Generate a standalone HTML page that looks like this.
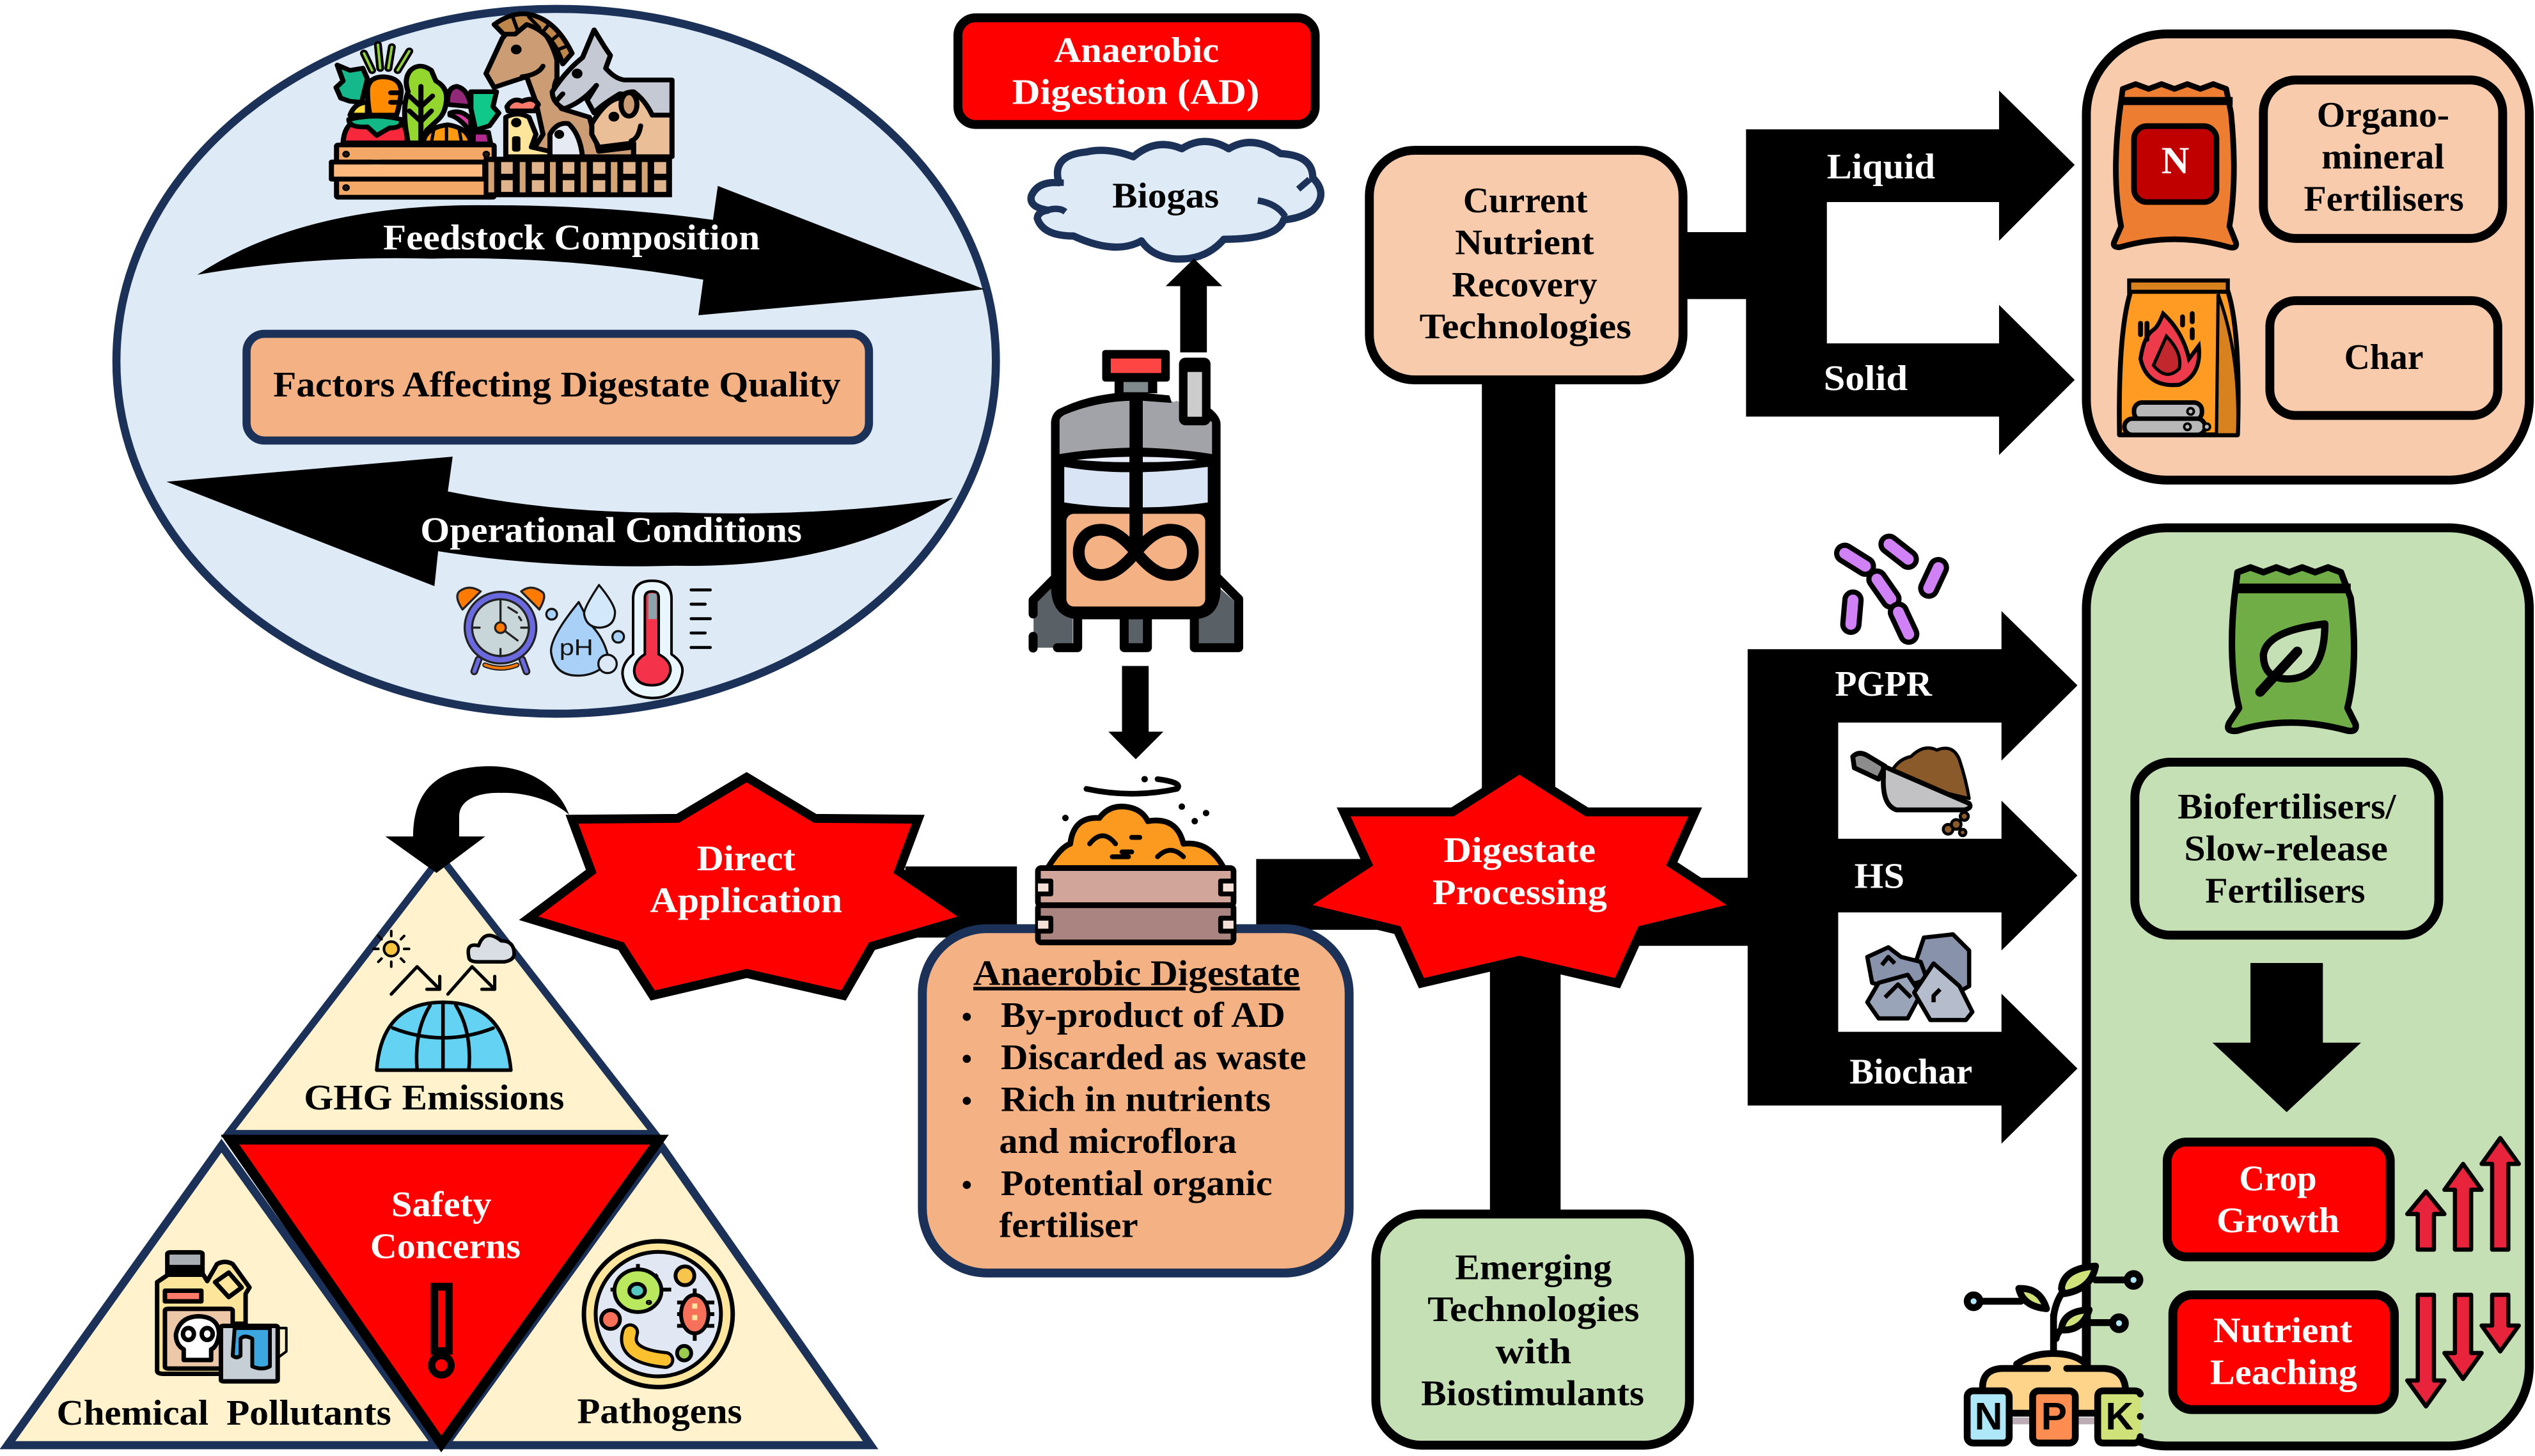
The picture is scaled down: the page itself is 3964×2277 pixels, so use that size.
<!DOCTYPE html>
<html><head><meta charset="utf-8"><title>Anaerobic digestate diagram</title>
<style>
html,body{margin:0;padding:0;background:#fff}
svg{display:block}
text{font-family:"Liberation Serif",serif;font-weight:bold;font-size:22px;fill:#000;transform:translateY(-0.7px)}
.w{fill:#fff}
.ns *{vector-effect:non-scaling-stroke}
</style></head><body>
<svg xmlns="http://www.w3.org/2000/svg" width="3964" height="2277" viewBox="0 0 1568 900.7">
<rect width="1568" height="901" fill="#fff"/>

<!-- factors ellipse -->
<ellipse cx="344" cy="223.5" rx="272" ry="218" fill="#deeaf6" stroke="#1b3158" stroke-width="5"/>
<path d="M122 170Q190 125 305 127Q375 127 441 136L444 115L609 179L432 195L435 173Q350 158 267 160Q190 158 122 170Z"/>
<path d="M103 298L280 282.5L277 304Q345 318 418 317Q510 320 589.5 308Q520 352 418 350Q340 352 271 341L268.7 362.6Z"/>
<rect x="152.5" y="206.5" width="385" height="66" rx="11" fill="#f4b183" stroke="#1b3158" stroke-width="5"/>
<text x="237" y="155" class="w" textLength="233" lengthAdjust="spacingAndGlyphs">Feedstock Composition</text>
<text x="169" y="246" textLength="351" lengthAdjust="spacingAndGlyphs">Factors Affecting Digestate Quality</text>
<text x="260" y="336" class="w" textLength="236" lengthAdjust="spacingAndGlyphs">Operational Conditions</text>

<!-- feedstock icon (drawn in zoom coordinates) -->
<g transform="translate(197.8,3.96) scale(.1438,.1319)" stroke="#000" stroke-width="22" stroke-linejoin="round" stroke-linecap="round">
<path d="M75 275L130 300L185 290L205 340L180 450L130 445L90 430L70 380L100 350Z" fill="#14b88a"/>
<g fill="none"><path d="M190 220L225 300M250 180L260 290M310 190L295 290M385 210L335 300" stroke-width="34"/><path d="M190 220L225 300M250 180L260 290M310 190L295 290M385 210L335 300" stroke="#8fd137" stroke-width="11"/></g>
<path d="M130 510Q150 450 205 450V510Z" fill="#ffdc3c"/>
<path d="M205 390Q210 330 275 330Q350 335 350 400Q345 460 330 510H215Q205 450 205 390Z" fill="#ff8c00"/>
<path d="M305 405H350M305 450H350" fill="none"/>
<path d="M550 460Q545 380 590 375Q640 390 650 470Z" fill="#922878"/>
<path d="M560 500Q610 480 650 530V590Q600 520 560 510Z" fill="#d63aa0"/>
<path d="M660 590H725L735 645H660Z" fill="#b02a90"/>
<path d="M650 400L690 400L760 400L745 470L770 500L730 560L670 580L650 480Z" fill="#0fc88a"/>
<path d="M380 640Q350 480 380 400Q360 340 390 300Q430 260 480 300Q495 340 500 350Q550 380 545 440Q540 500 510 530L460 580L440 640Z" fill="#92d62e"/>
<path d="M435 375V640M385 420L435 470L485 420M385 490L435 540L480 490" fill="none"/>
<path d="M445 640Q450 570 550 555Q640 570 650 640Z" fill="#ff9a10"/>
<path d="M490 580L480 640M545 555V640M600 580L610 640" fill="none" stroke-width="14"/>
<path d="M100 640Q105 560 150 540L350 540Q380 580 375 640Z" fill="#f7283c"/>
<path d="M125 530Q240 500 350 530Q360 570 300 570L245 605L205 565Q125 570 125 530Z" fill="#12b886"/>
<rect x="72" y="650" width="678" height="245" rx="6" fill="#f3a868"/>
<rect x="50" y="730" width="660" height="80" fill="#fdb97e"/>
<path d="M50 730H225M262 730H710M50 810H710" fill="none"/>
<circle cx="113" cy="693" r="5"/><circle cx="113" cy="850" r="5"/><circle cx="716" cy="693" r="5"/>
<!-- horse -->
<path d="M715 315L785 150Q830 90 890 60Q980 100 1020 250L1020 340Q990 400 1040 480L1160 520L1200 680L1350 660V705H900L960 600L930 450L890 330Q830 350 750 380Z" fill="#cc9d74"/>
<path d="M750 85Q820 30 885 35Q1010 50 1085 220L1045 270Q1000 120 890 85L840 130L790 130Z" fill="#bf8649"/>
<path d="M830 50L850 110M900 50L945 100M985 85L955 125M1030 130L995 160M1065 185L1020 205" fill="none" stroke-width="16"/>
<path d="M870 330Q940 320 960 280" fill="none"/>
<circle cx="845" cy="202" r="12"/>
<!-- donkey -->
<path d="M1000 400Q1060 300 1130 240L1180 110L1225 190L1250 230L1230 290Q1270 340 1310 345H1515V510H1400Q1350 410 1290 410Q1200 470 1180 500L1150 440L1190 370Q1130 450 1050 480Q1000 450 1000 400Z" fill="#c5c9d3"/>
<path d="M1045 410L1020 440" fill="none"/>
<circle cx="1107" cy="315" r="12"/>
<!-- pig -->
<path d="M1170 550Q1230 440 1290 430Q1310 400 1350 400Q1400 440 1430 510H1515V705H1350V640L1200 660L1170 600Z" fill="#eabf97"/>
<ellipse cx="1330" cy="460" rx="34" ry="55" fill="#cc9d74"/>
<path d="M1380 560Q1370 620 1340 630" fill="none"/>
<circle cx="1265" cy="517" r="12"/>
<!-- chicken, duck -->
<path d="M805 470Q830 425 870 445Q920 420 940 460L925 490L810 490Z" fill="#f87a6a"/>
<path d="M800 705V520Q850 490 900 520L930 600L910 660L1030 690V705Z" fill="#fde59c"/>
<circle cx="845" cy="545" r="11"/><rect x="838" y="620" width="14" height="50"/>
<path d="M990 705V600Q1020 540 1070 550Q1120 600 1130 705Z" fill="#e6ebf3"/>
<circle cx="1030" cy="600" r="10"/>
<!-- fence -->
<rect x="705" y="705" width="810" height="190" stroke="none"/>
<g stroke="none">
<g fill="#d4a373"><rect x="725" y="730" width="25" height="142"/><rect x="860" y="730" width="25" height="142"/><rect x="990" y="730" width="25" height="142"/><rect x="1122" y="730" width="26" height="142"/><rect x="1252" y="730" width="28" height="142"/><rect x="1385" y="730" width="25" height="142"/></g>
<g fill="#e0b48c"><rect x="780" y="730" width="50" height="55"/><rect x="780" y="815" width="50" height="55"/><rect x="912" y="730" width="53" height="55"/><rect x="912" y="815" width="53" height="55"/><rect x="1045" y="730" width="50" height="55"/><rect x="1045" y="815" width="50" height="55"/><rect x="1175" y="730" width="53" height="55"/><rect x="1175" y="815" width="53" height="55"/><rect x="1305" y="730" width="53" height="55"/><rect x="1305" y="815" width="53" height="55"/><rect x="1438" y="730" width="52" height="55"/><rect x="1438" y="815" width="52" height="55"/></g>
</g>
</g>

<!-- conditions icons (zoom coordinates) -->
<g transform="translate(272.9,352) scale(.1319)" stroke-linejoin="round" stroke-linecap="round">
<path d="M100 190Q60 130 85 105Q130 70 185 105Z M460 190Q500 120 470 105Q420 70 375 105Z" fill="#ff7a00" stroke="#222" stroke-width="10"/>
<path d="M175 425L155 480M380 425L400 480" stroke="#222" stroke-width="36" fill="none"/>
<path d="M175 425L155 480M380 425L400 480" stroke="#6a6ade" stroke-width="18" fill="none"/>
<path d="M205 450Q280 480 355 450" stroke="#222" stroke-width="24" fill="none"/>
<path d="M205 450Q280 480 355 450" stroke="#ff7a00" stroke-width="12" fill="none"/>
<circle cx="278" cy="275" r="168" fill="#6a6ade" stroke="#222" stroke-width="10"/>
<circle cx="278" cy="275" r="133" fill="#c9d6d9" stroke="#222" stroke-width="10"/>
<path d="M278 150V275M278 275L358 335M145 275H180M375 275H410M278 375V410M315 180L355 205M365 225L375 240" stroke="#222" stroke-width="10" fill="none"/>
<circle cx="278" cy="275" r="25" fill="#ff7a00" stroke="#222" stroke-width="10"/>
<circle cx="518" cy="212" r="25" fill="#a9d1f7" stroke="#111" stroke-width="10"/>
<circle cx="830" cy="318" r="27" fill="#a9d1f7" stroke="#111" stroke-width="10"/>
<path d="M645 155Q510 320 515 390Q530 500 640 500Q700 500 745 470L780 400Q760 320 700 260Z" fill="#a9d1f7" stroke="#111" stroke-width="10"/>
<path d="M740 75Q670 180 670 210Q680 275 745 275Q815 270 815 200Q810 160 740 75Z" fill="#d4e8fb" stroke="#111" stroke-width="10"/>
<circle cx="780" cy="445" r="43" fill="#dce8f5" stroke="#111" stroke-width="10"/>
<path d="M900 400V140Q900 55 990 55Q1080 55 1080 140V400Q1140 440 1130 490Q1110 605 990 605Q860 600 850 490Q850 440 900 400Z" fill="#eaf6fd" stroke="#000" stroke-width="12"/>
<path d="M955 400V135Q955 105 990 105Q1020 105 1020 135V400Q1080 430 1075 480Q1060 545 990 545Q910 545 905 480Q905 430 955 400Z" fill="#f4324a" stroke="#000" stroke-width="12"/>
<rect x="972" y="115" width="38" height="120" fill="#8aa4ae"/>
<path d="M1172 98H1262M1172 165H1238M1172 233H1262M1172 300H1238M1172 368H1262" stroke="#000" stroke-width="14" fill="none"/>
</g>
<text x="346" y="406" style="font-size:14px;font-weight:normal;font-family:'Liberation Sans',sans-serif;fill:#111" textLength="21" lengthAdjust="spacingAndGlyphs">pH</text>

<!-- AD box, biogas -->
<rect x="592.5" y="11" width="221" height="66" rx="11" fill="#f00" stroke="#000" stroke-width="5.5"/>
<text x="652" y="39" class="w" textLength="102" lengthAdjust="spacingAndGlyphs">Anaerobic</text>
<text x="626" y="65" class="w" textLength="153" lengthAdjust="spacingAndGlyphs">Digestion (AD)</text>
<path d="M638 121Q642 112 655 113Q650 96 672 94Q685 91 701 97Q715 85 731 92Q745 83 760 92Q775 83 792 95Q812 96 812 110Q822 120 812 130Q805 135 794 136Q790 148 757 148Q745 162 725 160Q712 158 706 149Q690 158 664 146Q645 146 641.6 135Q642 131 648 130Q636 128 638 121Z" fill="#deeaf6" stroke="#1b3158" stroke-width="4.5" stroke-linejoin="round"/>
<path d="M648 130Q655 128 659 131M778 124Q790 126 795 134M803 117L810 111M655 113L658 113" fill="none" stroke="#1b3158" stroke-width="4"/>
<text x="688" y="129" textLength="66" lengthAdjust="spacingAndGlyphs">Biogas</text>
<path d="M738.5 160L756 177H746.5V218H730V177H721Z"/>
<path d="M694 412H710.5V452.6H719.6L702.5 469.7L685.6 452.6H694Z"/>

<!-- reactor (zoom coordinates) -->
<g transform="translate(629,205.7) scale(.1319)" stroke-linejoin="round" stroke-linecap="round">
<polygon points="78,1478 78,1260 170,1180 262,1300 262,1478" fill="#5a6166"/>
<polygon points="1020,1460 1020,1260 940,1190 850,1300 850,1460" fill="#5a6166"/>
<rect x="520" y="1330" width="75" height="130" fill="#5a6166"/>
<path d="M76 1320V1255L180 1150M76 1480V1425M190 1478H285V1330M1040 1250L940 1150M1040 1250V1478H832V1330M503 1330V1478H612V1330" fill="none" stroke="#000" stroke-width="42"/>
<path d="M160 1200V420Q165 370 205 355Q360 280 560 280L715 295L725 325L900 350Q955 390 955 430V1200Q955 1340 830 1345H290Q165 1340 160 1200Z" fill="#000"/>
<path d="M200 570V410Q205 395 225 385Q370 325 530 320V540Q350 545 200 570Z" fill="#a2a3a8"/>
<path d="M590 320L720 330L750 320L915 420V570Q760 545 590 540Z" fill="#a2a3a8"/>
<path d="M280 597Q400 585 528 583V608Q400 608 280 597ZM590 583Q720 585 845 597Q720 608 590 608Z" fill="#e6ecf7"/>
<path d="M222 630Q370 655 528 655V820Q370 820 222 797ZM590 655Q740 650 895 630V797Q740 820 590 820Z" fill="#d9e4f4"/>
<rect x="232" y="850" width="651" height="435" rx="35" fill="#f4b183"/>
<rect x="528" y="280" width="62" height="730"/>
<path d="M558 1030C500 960 450 925 395 925C325 925 290 975 290 1030C290 1085 325 1137 395 1137C450 1137 500 1100 558 1030C615 960 665 925 720 925C790 925 825 975 825 1030C825 1085 790 1137 720 1137C665 1137 615 1100 558 1030Z" fill="none" stroke="#000" stroke-width="55"/>
<rect x="458" y="225" width="200" height="60"/>
<rect x="500" y="232" width="115" height="48" fill="#7f8a8c"/>
<rect x="400" y="82" width="317" height="148" rx="14"/>
<rect x="440" y="122" width="237" height="68" fill="#f44"/>
<rect x="760" y="118" width="148" height="317" rx="30"/>
<rect x="800" y="185" width="68" height="210" fill="#ccc"/>
</g>

<!-- connectors -->
<rect x="560" y="536" width="69" height="44"/>
<rect x="777" y="531.400" width="90" height="43.800"/>
<rect x="1010" y="543" width="75" height="42.100"/>

<!-- digestate box -->
<rect x="570.5" y="574.5" width="264" height="213" rx="40" fill="#f4b183" stroke="#1b3158" stroke-width="5.500"/>
<text x="602" y="610" textLength="202" lengthAdjust="spacingAndGlyphs" text-decoration="underline">Anaerobic Digestate</text>
<g>
<circle cx="598" cy="629" r="2.500"/><circle cx="598" cy="655" r="2.500"/><circle cx="598" cy="681" r="2.500"/><circle cx="598" cy="733" r="2.500"/>
<text x="619" y="636" textLength="176" lengthAdjust="spacingAndGlyphs">By-product of AD</text>
<text x="619" y="662" textLength="189" lengthAdjust="spacingAndGlyphs">Discarded as waste</text>
<text x="619" y="688" textLength="167" lengthAdjust="spacingAndGlyphs">Rich in nutrients</text>
<text x="618" y="714" textLength="147" lengthAdjust="spacingAndGlyphs">and microflora</text>
<text x="619" y="740" textLength="168" lengthAdjust="spacingAndGlyphs">Potential organic</text>
<text x="618" y="766" textLength="86" lengthAdjust="spacingAndGlyphs">fertiliser</text>
</g>

<!-- digestate pile -->
<g stroke="#000" stroke-linejoin="round" stroke-linecap="round">
<path d="M648 537Q656 524 662 522Q664 505 680 506Q686 498 696 499Q706 500 710 508Q728 505 732 522Q748 520 757 537Z" fill="#fb9a1e" stroke-width="3.5"/>
<path d="M674 522Q682 512 690 522M694 527H700M688 530H698M716 530Q724 522 732 530M700 518H705" fill="none" stroke-width="3"/>
<rect x="642" y="537" width="121" height="23" rx="2" fill="#d2a59b" stroke-width="3.5"/>
<rect x="642" y="560" width="121" height="23" rx="2" fill="#a98481" stroke-width="3.500"/>
<path d="M642 545H650V553H642M763 545H755V553H763M642 568H650V576H642M763 568H755V576H763" fill="#f5e0d8" stroke-width="3"/>
<path d="M672 488Q700 494 728 488Q732 484 716 482" fill="none" stroke-width="3.500"/>
<circle cx="708" cy="482" r="1.500"/><circle cx="731" cy="499" r="1.500"/><circle cx="739" cy="508" r="1.500"/><circle cx="746" cy="503" r="1.500"/><circle cx="659" cy="506" r="1.500"/>
</g>

<!-- central trunk -->
<rect x="916.600" y="230" width="45.400" height="270"/>
<rect x="921.600" y="570" width="43.700" height="185"/>

<!-- stars -->
<polygon points="939.800,479.300 980.700,505 1044.300,505 1030.600,535.400 1067.900,559.800 1013.400,573 998.900,605 939.800,591.200 880.800,605 866.300,573 811.800,559.800 849.400,535.400 835.400,505 899.300,505" fill="#f00" stroke="#000" stroke-width="11" stroke-miterlimit="10" paint-order="stroke"/>
<text x="893" y="534" class="w" textLength="94" lengthAdjust="spacingAndGlyphs">Digestate</text>
<text x="886" y="560" class="w" textLength="108" lengthAdjust="spacingAndGlyphs">Processing</text>

<!-- curved arrow -->
<path d="M352 504C345 485 325 474 303 474C270 474 255.500 490 255.500 517.500H238.500L270 540L300 517.500H284V505C284 495 295 490 310 490.500C325 490 342 495 352 504Z"/>

<polygon points="461.800,484 503.400,509 564,509.500 552.600,540 592.300,567 537.500,583 520.400,612.700 461.800,599.400 405,612.700 386,583 333,567 369,540 357.700,509.500 420,509" fill="#f00" stroke="#000" stroke-width="11" stroke-miterlimit="10" paint-order="stroke"/>
<text x="431" y="539" class="w" textLength="61" lengthAdjust="spacingAndGlyphs">Direct</text>
<text x="402" y="565" class="w" textLength="119" lengthAdjust="spacingAndGlyphs">Application</text>

<!-- triangles -->
<polygon points="272.500,534 145.700,699 400.500,699" fill="#fff2cc" stroke="#1b3158" stroke-width="9" paint-order="stroke" stroke-miterlimit="10"/>
<polygon points="9.500,891.500 265,891.500 137,713" fill="#fff2cc" stroke="#1b3158" stroke-width="10" paint-order="stroke" stroke-miterlimit="10"/>
<polygon points="280,891.500 533.700,891.500 408.800,713" fill="#fff2cc" stroke="#1b3158" stroke-width="10" paint-order="stroke" stroke-miterlimit="10"/>
<polygon points="148,708 402,708 273,888" fill="#f00" stroke="#000" stroke-width="12" paint-order="stroke" stroke-miterlimit="10"/>
<path d="M255.500 517.500H238.500L270 540L300 517.500H284Z"/>
<text x="188" y="687" textLength="161" lengthAdjust="spacingAndGlyphs">GHG Emissions</text>
<text x="242" y="753" class="w" textLength="62" lengthAdjust="spacingAndGlyphs">Safety</text>
<text x="229" y="779" class="w" textLength="93" lengthAdjust="spacingAndGlyphs">Concerns</text>
<text x="35" y="882" textLength="94" lengthAdjust="spacingAndGlyphs">Chemical</text>
<text x="140" y="882" textLength="102" lengthAdjust="spacingAndGlyphs">Pollutants</text>
<text x="357" y="881" textLength="102" lengthAdjust="spacingAndGlyphs">Pathogens</text>
<rect x="266.200" y="793.600" width="13.800" height="44.400"/>
<rect x="271" y="798.400" width="4.400" height="35" fill="#f00"/>
<circle cx="273" cy="844.600" r="6" fill="#f00" stroke="#000" stroke-width="4.500"/>

<!-- GHG icon -->
<g stroke="#000" stroke-linejoin="round" stroke-linecap="round">
<circle cx="242" cy="587" r="4.500" fill="#f9c440" stroke-width="1.600"/>
<path d="M242 576V579M242 595V598M231 587H234M250 587H253M234 579L236 581M248 593L250 595M250 579L248 581M234 595L236 593" stroke-width="1.600" fill="none"/>
<path d="M290 592Q288 583 296 585Q300 574 310 582Q318 582 318 590Q318 594 312 595H296Q290 595 290 592Z" fill="#d8dee4" stroke-width="2.200"/>
<path d="M242 615L258 598L272 612M272 604V612H264M277 615L292 598L306 612M306 604V612H298" fill="none" stroke-width="2"/>
<path d="M233 662Q236 620 274 620Q312 620 316 662Z" fill="#64d2f2" stroke-width="2.200"/>
<path d="M243 636Q274 648 305 636M274 620V662M258 662Q256 638 266 622M290 662Q292 638 282 622" fill="none" stroke-width="2.200"/>
</g>

<!-- chemical icon (zoom coordinates, non-scaling stroke) -->
<g class="ns" transform="translate(87,743.700) scale(.2422,.1319)" stroke="#000" stroke-width="7" stroke-linejoin="round">
<rect x="68" y="235" width="90" height="70" rx="8" fill="#a8acb3"/>
<rect x="68" y="305" width="90" height="32" fill="#000"/>
<path d="M42 375L70 340H160L170 370L195 290Q215 270 235 290L278 400L268 430V570H205V805H60Q42 805 42 790Z" fill="#fde59c"/>
<polygon points="190,375 225,330 258,400 225,445" fill="#fde59c"/>
<rect x="62" y="415" width="93" height="50" fill="#ff7b6a"/>
<rect x="62" y="500" width="173" height="280" rx="8" fill="#ecc7a8"/>
<path d="M90 620Q100 535 150 535Q200 540 200 620Q195 680 180 690V740H110V690Q90 670 90 620Z" fill="#fff"/>
<ellipse cx="122" cy="618" rx="14" ry="28" fill="none"/>
<ellipse cx="170" cy="618" rx="14" ry="28" fill="none"/>
<path d="M350 590H372V700L350 730" fill="none" stroke-width="4"/>
<rect x="205" y="580" width="145" height="260" rx="6" fill="#c7cfd6"/>
<path d="M240 590H330V770Q310 790 285 770V640Q265 620 255 640V720Q245 735 235 720Z" fill="#3ba6e0" stroke-width="6"/>
</g>

<!-- petri (zoom coordinates, non-scaling stroke) -->
<g class="ns" transform="translate(87,743.700) scale(.2422,.1319)" stroke="#000" stroke-width="6">
<ellipse cx="1322" cy="525" rx="190" ry="342" fill="#fde59c" stroke-width="7"/>
<ellipse cx="1322" cy="525" rx="160" ry="292" fill="#e2e8f3" stroke-width="6"/>
<path d="M1270 290V520M1200 410H1355M1225 340L1320 480M1320 340L1225 480" stroke-width="6" fill="none"/>
<ellipse cx="1270" cy="415" rx="60" ry="100" fill="#b9e85e"/>
<ellipse cx="1268" cy="415" rx="20" ry="32" fill="#53c8c0"/>
<circle cx="1298" cy="470" r="3" /><path d="M1370 470H1465M1370 525H1465M1370 580H1465M1415 405V650" fill="none"/>
<ellipse cx="1415" cy="525" rx="35" ry="90" fill="#f7705a"/>
<path d="M1415 475V580" stroke="#fde59c" stroke-width="8" stroke-dasharray="8 10" fill="none"/>
<ellipse cx="1200" cy="550" rx="24" ry="44" fill="#f7705a"/>
<ellipse cx="1390" cy="345" rx="24" ry="44" fill="#f8c44c"/>
<ellipse cx="1388" cy="708" rx="18" ry="34" fill="#9ccb4e"/>
<path d="M1250 610Q1230 720 1340 740" fill="none" stroke-width="28" stroke-linecap="round"/>
<path d="M1250 610Q1230 720 1340 740" fill="none" stroke="#fbc02d" stroke-width="18" stroke-linecap="round"/>
</g>

<!-- current tech -->
<rect x="1040" y="143.600" width="45" height="41.400"/>
<path d="M1080 80H1236.500V56L1283.300 102L1236.500 149V125H1130V212.400H1236.500V188.600L1283.300 235L1236.500 281.500V257.700H1080Z"/>
<rect x="847" y="93" width="194" height="142" rx="28" fill="#f8cbad" stroke="#000" stroke-width="5.500"/>
<text x="905" y="132" textLength="77" lengthAdjust="spacingAndGlyphs">Current</text>
<text x="900" y="158" textLength="86" lengthAdjust="spacingAndGlyphs">Nutrient</text>
<text x="898" y="184" textLength="90" lengthAdjust="spacingAndGlyphs">Recovery</text>
<text x="878" y="210" textLength="131" lengthAdjust="spacingAndGlyphs">Technologies</text>
<text x="1130" y="111" class="w" textLength="67" lengthAdjust="spacingAndGlyphs">Liquid</text>
<text x="1128" y="242" class="w" textLength="52" lengthAdjust="spacingAndGlyphs">Solid</text>

<!-- emerging -->
<rect x="851" y="751" width="194" height="143" rx="28" fill="#c5e0b4" stroke="#000" stroke-width="5.500"/>
<text x="900" y="792" textLength="97" lengthAdjust="spacingAndGlyphs">Emerging</text>
<text x="883" y="818" textLength="131" lengthAdjust="spacingAndGlyphs">Technologies</text>
<text x="925" y="844" textLength="47" lengthAdjust="spacingAndGlyphs">with</text>
<text x="879" y="870" textLength="138" lengthAdjust="spacingAndGlyphs">Biostimulants</text>

<!-- orange panel -->
<rect x="1290.500" y="21" width="274" height="276" rx="50" fill="#f8cbad" stroke="#000" stroke-width="5.500"/>
<path d="M1313 55l8 -3l8 3l8 -3l8 3l8 -3l8 3l8 -3l8 3L1380 70Q1384 110 1379 140L1383 150Q1384 154 1379 153Q1345 143 1311 153Q1306 153 1308 149L1312 140Q1306 110 1311 70Z" fill="#ed7d31" stroke="#000" stroke-width="3.500" stroke-linejoin="round"/>
<rect x="1311" y="60" width="70" height="5" fill="#000"/>
<rect x="1320" y="78" width="51" height="47" rx="8" fill="#c00000" stroke="#000" stroke-width="3.500"/>
<text x="1345.500" y="108" class="w" text-anchor="middle" style="font-size:24px">N</text>
<rect x="1400" y="49.500" width="148" height="98" rx="20" fill="#f8cbad" stroke="#000" stroke-width="5.500"/>
<text x="1433" y="79" textLength="82" lengthAdjust="spacingAndGlyphs">Organo-</text>
<text x="1436" y="105" textLength="76" lengthAdjust="spacingAndGlyphs">mineral</text>
<text x="1425" y="131" textLength="99" lengthAdjust="spacingAndGlyphs">Fertilisers</text>
<path d="M1318 180Q1310 205 1311 269H1384Q1386 205 1378 180Z" fill="#ff9a22" stroke="#000" stroke-width="3" stroke-linejoin="round"/>
<path d="M1372 182Q1386 220 1384 269H1371Z" fill="#d8821f" stroke="#000" stroke-width="2"/>
<rect x="1317" y="173.500" width="61" height="7" fill="#d8821f" stroke="#000" stroke-width="2.500"/>
<path d="M1338 194Q1350 205 1354 222L1360 214Q1362 232 1348 238Q1328 240 1324 222Q1326 208 1332 204Q1335 202 1338 194Z" fill="#ee3b4b" stroke="#000" stroke-width="2.500"/>
<path d="M1340 208Q1350 218 1348 228Q1340 236 1332 226Z" fill="#c1272d" stroke="#000" stroke-width="2"/>
<path d="M1324 200V207M1328 200V210M1350 196V201M1356 194V199M1356 204V209" stroke="#000" stroke-width="3" stroke-linecap="round"/>
<rect x="1320" y="249" width="42" height="11" rx="5" fill="#b8b8b8" stroke="#000" stroke-width="2.800"/>
<rect x="1314" y="259" width="50" height="10" rx="5" fill="#b8b8b8" stroke="#000" stroke-width="2.800"/>
<circle cx="1355" cy="254.500" r="2" fill="#b8b8b8" stroke="#000" stroke-width="1.500"/>
<circle cx="1353" cy="264" r="2" fill="#b8b8b8" stroke="#000" stroke-width="1.500"/>
<circle cx="1365" cy="264" r="2" fill="#b8b8b8" stroke="#000" stroke-width="1.500"/>
<rect x="1404" y="186" width="141" height="71" rx="16" fill="#f8cbad" stroke="#000" stroke-width="5.500"/>
<text x="1450" y="229" textLength="49" lengthAdjust="spacingAndGlyphs">Char</text>

<!-- arrows to green panel -->
<path d="M1081 401.600H1238V378L1285 424L1238 470.500V447H1137V518.900H1238V495.300L1285 541.600L1238 588V564.400H1137V638.300H1238V614.700L1285 661L1238 707.500V683.900H1081Z"/>
<text x="1135" y="431" class="w" textLength="60" lengthAdjust="spacingAndGlyphs">PGPR</text>
<text x="1147" y="550" class="w" textLength="31" lengthAdjust="spacingAndGlyphs">HS</text>
<text x="1144" y="671" class="w" textLength="76" lengthAdjust="spacingAndGlyphs">Biochar</text>

<!-- bacteria -->
<g fill="#cf81f5" stroke="#000" stroke-width="3.200">
<rect x="1135" y="341" width="25" height="10" rx="5" transform="rotate(32 1147 346)"/>
<rect x="1162" y="336" width="25" height="10" rx="5" transform="rotate(38 1174 341)"/>
<rect x="1153" y="359" width="25" height="10" rx="5" transform="rotate(55 1165 364)"/>
<rect x="1184" y="352.500" width="24" height="10" rx="5" transform="rotate(-65 1196 357.500)"/>
<rect x="1133" y="373.700" width="25" height="10" rx="5" transform="rotate(-85 1145.500 378.700)"/>
<rect x="1165" y="380.400" width="25" height="10" rx="5" transform="rotate(65 1177.400 385.400)"/>
</g>
<!-- scoop -->
<g stroke="#000" stroke-linejoin="round">
<path d="M1168 482Q1172 470 1182 468Q1190 460 1198 464Q1208 460 1212 470Q1216 482 1218 494Z" fill="#8a5a2b" stroke-width="2"/>
<path d="M1146 468Q1150 464 1156 468L1166 474L1162 482L1147 475Z" fill="#8c8c8c" stroke-width="3"/>
<path d="M1165 474L1218 497Q1220 500 1215 501H1173Q1164 498 1165 480Z" fill="#c2c2c4" stroke-width="3"/>
<circle cx="1205" cy="513" r="3" fill="#8a5a2b" stroke-width="1.800"/><circle cx="1210" cy="510" r="3" fill="#8a5a2b" stroke-width="1.800"/><circle cx="1215" cy="505" r="2.500" fill="#8a5a2b" stroke-width="1.800"/><circle cx="1214" cy="515" r="2" fill="#8a5a2b" stroke-width="1.800"/>
</g>
<!-- coal -->
<g stroke="#000" stroke-width="2.600" stroke-linejoin="round">
<path d="M1190 580L1208 578L1218 588V610L1200 620L1184 598Z" fill="#8892aa"/>
<path d="M1155 592L1168 586L1176 592L1188 595L1192 606L1172 612L1158 608Z" fill="#8892aa"/>
<path d="M1155 620L1162 608L1180 603L1188 615L1180 630H1162Z" fill="#9aa4b8"/>
<path d="M1184 614L1196 596L1212 610L1220 626L1216 631H1194Z" fill="#b5bccb"/>
<path d="M1164 597L1168 592L1172 596M1166 617L1174 609L1182 617M1200 612L1196 616V620" fill="none"/>
</g>

<!-- green panel -->
<rect x="1290.500" y="326.500" width="274" height="568" rx="50" fill="#c5e0b4" stroke="#000" stroke-width="5.500"/>
<path d="M1384 354l8 -3l8 3l8 -3l8 3l8 -3l8 3l8 -3l8 3L1454 370Q1459 410 1452 438L1457 448Q1458 453 1452 452Q1416 442 1384 452Q1376 453 1379 447L1385 438Q1378 410 1382 370Z" fill="#70ad47" stroke="#000" stroke-width="4" stroke-linejoin="round"/>
<rect x="1382" y="361" width="72" height="6" fill="#000"/>
<path d="M1438 386Q1438 420 1415 420Q1400 420 1400 405Q1402 390 1438 386Z" fill="#c5e0b4" stroke="#000" stroke-width="4.500" stroke-linejoin="round"/>
<path d="M1398 428L1421 403" stroke="#000" stroke-width="6" stroke-linecap="round"/>
<rect x="1320.500" y="471.500" width="188" height="107" rx="22" fill="#c5e0b4" stroke="#000" stroke-width="5.500"/>
<text x="1347" y="507" textLength="135" lengthAdjust="spacingAndGlyphs">Biofertilisers/</text>
<text x="1351" y="533" textLength="126" lengthAdjust="spacingAndGlyphs">Slow-release</text>
<text x="1364" y="559" textLength="99" lengthAdjust="spacingAndGlyphs">Fertilisers</text>
<path d="M1392 595.700H1436.800V645H1460.400L1414.400 688L1368.500 645H1392Z"/>
<rect x="1340.500" y="706.500" width="138" height="71" rx="12" fill="#f00" stroke="#000" stroke-width="5.500"/>
<text x="1385" y="737" class="w" textLength="48" lengthAdjust="spacingAndGlyphs">Crop</text>
<text x="1371" y="763" class="w" textLength="76" lengthAdjust="spacingAndGlyphs">Growth</text>
<rect x="1344" y="801" width="137" height="71" rx="12" fill="#f00" stroke="#000" stroke-width="5.500"/>
<text x="1369" y="831" class="w" textLength="86" lengthAdjust="spacingAndGlyphs">Nutrient</text>
<text x="1367" y="857" class="w" textLength="91" lengthAdjust="spacingAndGlyphs">Leaching</text>

<!-- red arrows -->
<g fill="#e8243c" stroke="#000" stroke-width="2.600" stroke-linejoin="round">
<path d="M1500.600 737L1512 751H1505.500V773H1495.500V751H1489Z"/>
<path d="M1523.500 720L1535 736H1528.500V773H1518.500V736H1512Z"/>
<path d="M1546.500 704L1558 720H1551.500V773H1541.500V720H1535Z"/>
<path d="M1500.600 870L1489 854H1495.500V801H1505.500V854H1512Z"/>
<path d="M1523.500 853L1512 837H1518.500V801H1528.500V837H1535Z"/>
<path d="M1546.500 836L1535 820H1541.500V801H1551.500V820H1558Z"/>
</g>

<!-- NPK icon (zoom coordinates) -->
<g transform="translate(1206.500,775.300) scale(.1319)" stroke="#000" stroke-width="32" stroke-linejoin="round" stroke-linecap="round">
<path d="M150 640Q150 545 240 540H300Q380 470 480 470Q580 470 640 530H720Q810 545 820 640V760H150Z" fill="#fdd48a" stroke="none"/>
<rect x="275" y="770" width="110" height="32" fill="#bcaab5" stroke="none"/>
<rect x="585" y="770" width="105" height="32" fill="#bcaab5" stroke="none"/>
<path d="M150 630Q150 545 240 540H455M545 540H720Q810 545 820 630M310 520Q380 470 480 470Q580 470 630 515M275 750H385M585 750H690" fill="none"/>
<path d="M483 470V290M483 300Q490 230 530 175M495 400Q500 370 525 355" fill="none"/>
<path d="M520 165Q530 70 680 60Q660 170 530 190Z" fill="#cfe27a"/>
<path d="M320 165Q420 160 450 260Q340 250 320 165Z" fill="#cfe27a"/>
<path d="M520 355Q530 270 650 265Q620 360 530 360Z" fill="#cfe27a"/>
<path d="M330 225H150M680 125H820M650 325H760" fill="none"/>
<circle cx="108" cy="225" r="30" fill="#aee8f8"/>
<circle cx="858" cy="125" r="30" fill="#aee8f8"/>
<circle cx="790" cy="328" r="30" fill="#aee8f8"/>
<rect x="78" y="645" width="197" height="245" rx="28" fill="#aee8f8"/>
<rect x="385" y="645" width="200" height="245" rx="28" fill="#ff8c50"/>
<path d="M890 660Q885 645 860 645H718Q690 645 690 673V862Q690 890 718 890H860Q885 890 890 860M890 765H890" fill="#cfe27a"/>
</g>
<text x="1230" y="885" text-anchor="middle" style="font-size:24px;font-family:'Liberation Sans',sans-serif">N</text>
<text x="1270.500" y="885" text-anchor="middle" style="font-size:24px;font-family:'Liberation Sans',sans-serif">P</text>
<text x="1311" y="885" text-anchor="middle" style="font-size:24px;font-family:'Liberation Sans',sans-serif">K</text>
</svg>
</body></html>
